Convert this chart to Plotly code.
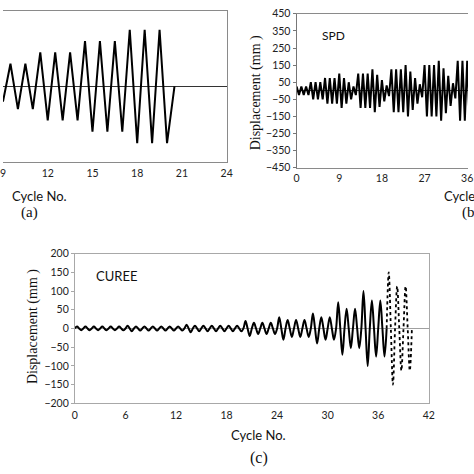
import plotly.graph_objects as go

W = H = 474

# ---------------- data ----------------
# Panel (a): peak of each cycle at cycle+0.5, trough at cycle+1.0
a_peak_cycles = [8.5, 9.5, 10.5, 11.5, 12.5, 13.5, 14.5, 15.5, 16.5, 17.5, 18.5, 19.5]
a_amplitudes = [20, 30, 30, 45, 45, 45, 60, 60, 60, 75, 75, 75]
a_end_cycle = 20.5
a_xticks = [9, 12, 15, 18, 21, 24]

# Panel (b) SPD: amplitude (mm) of each cycle, cycle index 0..36
b_amplitudes = [25, 25, 25, 50, 50, 50, 75, 75, 75,
                100, 75, 50, 25, 100, 100, 100,
                125, 94, 62, 31, 125, 125, 125,
                150, 112, 75, 38, 150, 150, 150,
                175, 131, 88, 44, 175, 175, 175]
b_xticks = [0, 9, 18, 27, 36]
b_yticks = [-450, -350, -250, -150, -50, 50, 150, 250, 350, 450]

# Panel (c) CUREE: amplitude (mm) of each cycle, cycle index 0..39
c_amplitudes = [5, 5, 5, 5, 5, 5,
                7.5, 5.6, 5.6, 5.6, 5.6, 5.6, 5.6,
                10, 7.5, 7.5, 7.5, 7.5, 7.5, 7.5,
                20, 15, 15, 15,
                30, 22.5, 22.5, 22.5,
                40, 30, 30,
                70, 52.5, 52.5,
                100, 75, 75,
                150, 112.5, 112.5]
c_solid_cycles = 37          # cycles drawn solid, the rest dotted
c_xticks = [0, 6, 12, 18, 24, 30, 36, 42]
c_yticks = [-200, -150, -100, -50, 0, 50, 100, 150, 200]

# ---------------- build series ----------------
ax_, ay_ = [], []
for c, A in zip(a_peak_cycles, a_amplitudes):
    ax_ += [c, c + 0.5]
    ay_ += [A, -A]
ax_.append(a_end_cycle)
ay_.append(0)

bx, by = [], []
for k, A in enumerate(b_amplitudes):
    bx += [k, k + 0.5]
    by += [A, -A]

def cycles_to_wave(amps, start):
    xs, ys = [], []
    for i, A in enumerate(amps):
        k = start + i
        xs += [k, k + 0.25, k + 0.5, k + 0.75]
        ys += [0, A, 0, -A]
    xs.append(start + len(amps))
    ys.append(0)
    return xs, ys

cx1, cy1 = cycles_to_wave(c_amplitudes[:c_solid_cycles], 0)
cx2, cy2 = cycles_to_wave(c_amplitudes[c_solid_cycles:], c_solid_cycles)

fig = go.Figure()
fig.add_trace(go.Scatter(x=ax_, y=ay_, mode="lines", xaxis="x", yaxis="y",
                         line=dict(color="black", width=2), showlegend=False))
fig.add_trace(go.Scatter(x=bx, y=by, mode="lines", xaxis="x2", yaxis="y2",
                         line=dict(color="black", width=2), showlegend=False))
fig.add_trace(go.Scatter(x=cx1, y=cy1, mode="lines", xaxis="x3", yaxis="y3",
                         line=dict(color="black", width=2, shape="spline"), showlegend=False))
fig.add_trace(go.Scatter(x=cx2, y=cy2, mode="lines", xaxis="x3", yaxis="y3",
                         line=dict(color="black", width=1.8, shape="spline", dash="dot"),
                         showlegend=False))

def px(x):
    return x / W

def py(y):
    return 1 - y / H

tickfont = dict(family="Lato, Open Sans, sans-serif", size=10.5, color="#222")
frame = "#8a8a8a"

fig.update_layout(
    width=W, height=H, margin=dict(l=0, r=0, t=0, b=0),
    paper_bgcolor="white", plot_bgcolor="white",
    xaxis=dict(domain=[0, px(228)], range=[9, 24], tickvals=a_xticks,
               showgrid=False, zeroline=False, showline=True, mirror=True,
               linecolor=frame, linewidth=1, ticks="", tickfont=tickfont,
               ticklabelstandoff=1, ticklabeloverflow="allow", anchor="y"),
    yaxis=dict(domain=[py(160), py(5)], range=[-100, 100], showgrid=False,
               zeroline=True, zerolinecolor="#333", zerolinewidth=1.2,
               showline=True, side="right", linecolor=frame, linewidth=1,
               showticklabels=False, ticks="", anchor="x"),
    xaxis2=dict(domain=[px(299.3), 1], range=[0, 36.17], tickvals=b_xticks,
                showgrid=False, zeroline=False, showline=True, mirror=True,
                linecolor=frame, linewidth=1, ticks="", tickfont=tickfont,
                ticklabelstandoff=1, ticklabeloverflow="allow", anchor="y2"),
    yaxis2=dict(domain=[py(166), py(8)], range=[-450, 450], tickvals=b_yticks,
                showgrid=False, zeroline=True, zerolinecolor="#333", zerolinewidth=1,
                showline=True, linecolor="#777", linewidth=1.2, ticks="outside",
                ticklen=3, tickcolor="#777", tickfont=tickfont, anchor="x2"),
    xaxis3=dict(domain=[px(73.3), px(434)], range=[0, 42], tickvals=c_xticks,
                showgrid=False, zeroline=False, showline=True, mirror=True,
                linecolor="#a8a8a8", linewidth=1, ticks="", tickfont=tickfont,
                ticklabelstandoff=2, ticklabeloverflow="allow", anchor="y3"),
    yaxis3=dict(domain=[py(407.7), py(254)], range=[-200, 200], tickvals=c_yticks,
                showgrid=False, zeroline=True, zerolinecolor="#a0a0a0", zerolinewidth=1,
                showline=True, mirror=True, linecolor="#a8a8a8", linewidth=1,
                ticks="outside", ticklen=3, tickcolor="#a8a8a8", tickfont=tickfont,
                anchor="x3"),
)

sans = "Lato, Open Sans, sans-serif"
serif = "Liberation Serif, Times New Roman, serif"
ann = []
def add(text, x, y, size, family, xanchor="center", angle=0):
    ann.append(dict(text=text, x=px(x), y=py(y), xref="paper", yref="paper",
                    showarrow=False, xanchor=xanchor, yanchor="middle",
                    textangle=angle, font=dict(family=family, size=size, color="#111")))

add("Cycle No.", 37, 195, 13, sans)
add("(a)", 27, 212, 15, serif)
add("Cycle No.", 448, 195, 13, sans, xanchor="left")
add("(b)", 466, 212, 15, serif, xanchor="left")
add("SPD", 323, 30, 12, sans, xanchor="left")
add("Displacement (mm )", 257.5, 89, 14, serif, angle=-90)
add("CUREE", 93, 277, 13, sans, xanchor="left")
add("Displacement (mm )", 30, 329, 14, serif, angle=-90)
add("Cycle No.", 260, 440, 13, sans)
add("(c)", 261, 464, 16, serif)
fig.update_layout(annotations=ann)

fig.write_html("out.html")
